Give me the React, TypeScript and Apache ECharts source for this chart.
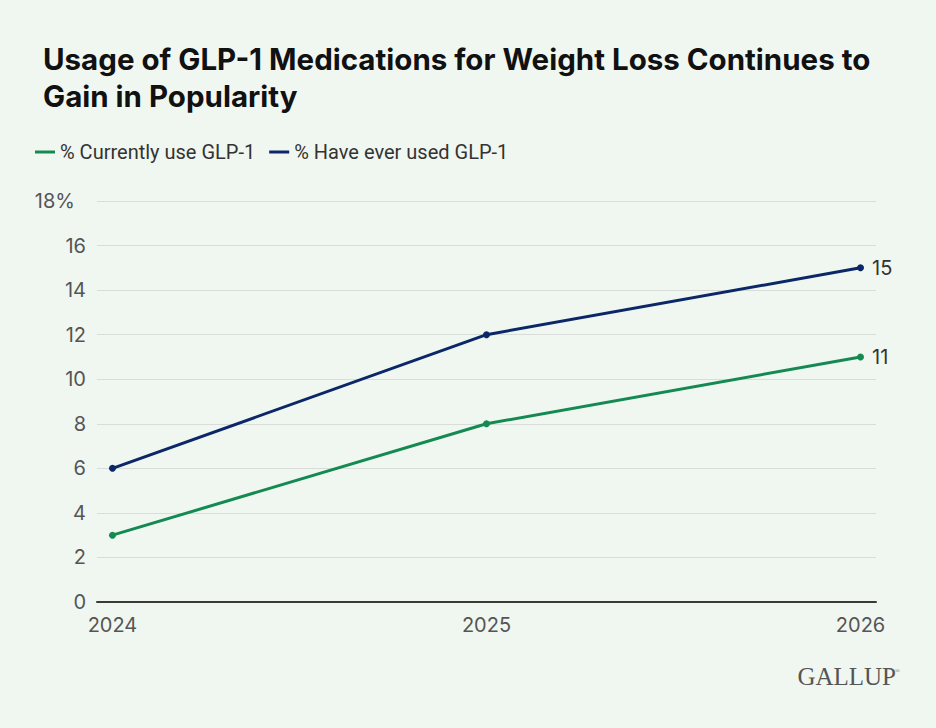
import React, { useEffect, useRef } from "react";
import * as echarts from "echarts";

const years = [2024, 2025, 2026];
const currentlyUse = [3, 8, 11];
const everUsed = [6, 12, 15];
const seriesNames = ["% Currently use GLP-1", "% Have ever used GLP-1"];
const yTicks = [0, 2, 4, 6, 8, 10, 12, 14, 16, 18];

const GREEN = "#148a52";
const NAVY = "#0b2767";
const FONT = "Inter, 'Noto Sans', sans-serif";

function App() {
  const chartRef = useRef<HTMLDivElement>(null);

  useEffect(() => {
    if (!chartRef.current) return;
    const chart = echarts.init(chartRef.current, undefined, { renderer: "svg" });
    const lastIdx = years.length - 1;
    const topTick = yTicks[yTicks.length - 1];

    const makeSeries = (name: string, values: number[], color: string) => ({
      name,
      type: "line" as const,
      data: values.map((v, i) => ({
        value: [years[i], v],
        label: {
          show: i === lastIdx,
          position: "right",
          distance: 8,
          formatter: String(v),
          fontSize: 20,
          color: "#333",
          fontFamily: FONT,
        },
      })),
      symbol: "circle",
      symbolSize: 7,
      showSymbol: true,
      lineStyle: { color, width: 3 },
      itemStyle: { color },
    });

    const options: echarts.EChartsOption = {
      animation: false,
      backgroundColor: "#f0f7f1",
      title: {
        text: "Usage of GLP-1 Medications for Weight Loss Continues to\nGain in Popularity",
        left: 38,
        top: 35,
        textStyle: {
          fontFamily: FONT,
          fontWeight: "bold",
          fontSize: 29.5,
          lineHeight: 37,
          color: "#111",
        },
      },
      legend: {
        left: 30,
        top: 137,
        icon: "rect",
        itemWidth: 20,
        itemHeight: 3,
        itemGap: 14,
        textStyle: { fontFamily: "Roboto, " + FONT, fontSize: 20, color: "#333" },
        data: seriesNames,
      },
      grid: { left: 97, right: 60, top: 201, bottom: 126 },
      xAxis: {
        type: "value",
        min: years[0] - 0.0414,
        max: years[lastIdx] + 0.0414,
        splitLine: { show: false },
        axisTick: { show: false },
        axisLine: { show: true, lineStyle: { color: "#3a3a3a", width: 2 } },
        axisLabel: {
          customValues: years,
          formatter: (v: number) => String(Math.round(v)),
          fontFamily: FONT,
          fontSize: 20,
          color: "#555",
          margin: 13,
        },
      },
      yAxis: {
        type: "value",
        min: yTicks[0],
        max: topTick,
        interval: 2,
        axisLine: { show: false },
        axisTick: { show: false },
        splitLine: { lineStyle: { color: "#d9ddd9", width: 1 } },
        axisLabel: {
          formatter: (v: number) => (v === topTick ? `{p|${v}%}` : String(v)),
          fontFamily: FONT,
          fontSize: 20,
          color: "#555",
          margin: 11,
          rich: {
            p: { fontFamily: FONT, fontSize: 20, color: "#555", padding: [0, 11, 0, 0] },
          },
        },
      },
      graphic: [
        {
          type: "text",
          right: 40,
          top: 664,
          style: {
            text: "GALLUP",
            font: "25px 'Liberation Serif', 'DejaVu Serif', serif",
            fill: "#555",
          },
        },
        {
          type: "text",
          right: 36,
          top: 667,
          style: {
            text: "®",
            font: "7px 'Liberation Serif', serif",
            fill: "#777",
          },
        },
      ],
      series: [
        makeSeries(seriesNames[0], currentlyUse, GREEN),
        makeSeries(seriesNames[1], everUsed, NAVY),
      ],
    };
    chart.setOption(options);
    return () => {
      chart.dispose();
    };
  }, []);

  return (
    <div
      ref={chartRef}
      style={{ position: "absolute", left: 0, top: 0, width: "936px", height: "728px" }}
    />
  );
}

export default App;
